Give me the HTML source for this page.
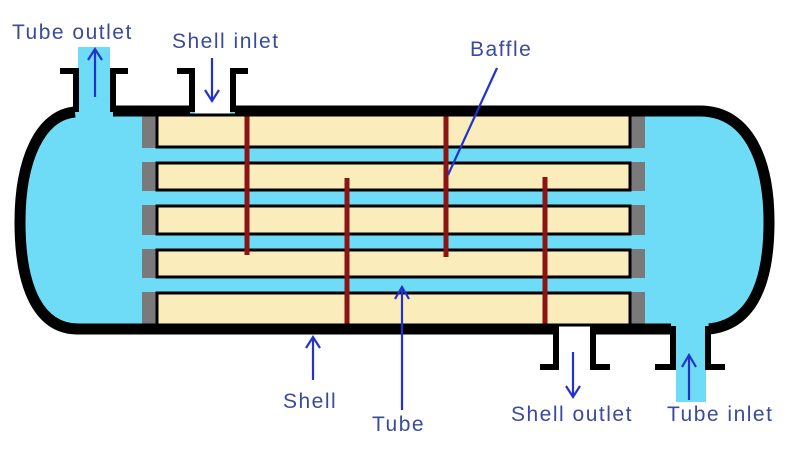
<!DOCTYPE html>
<html><head><meta charset="utf-8"><style>
html,body{margin:0;padding:0;background:#fff;}
svg{display:block}
text{font-family:"Liberation Sans",sans-serif;font-size:21px;letter-spacing:1.5px;fill:#3a4a9c}
</style></head><body>
<svg width="800" height="450" viewBox="0 0 800 450" xmlns="http://www.w3.org/2000/svg">
<rect x="78" y="47" width="32" height="70" fill="#6fdcf7"/>
<rect x="676" y="320" width="30" height="82" fill="#6fdcf7"/>
<path d="M78,111 L700,111 C745,111 770,160 770,222 C770,290 745,329 705,329 L78,329 C40,329 19,290 19,222 C19,160 40,111 78,111 Z" fill="#6fdcf7"/>
<rect x="195" y="60" width="35" height="58" fill="#fff"/>
<rect x="558" y="322" width="32" height="50" fill="#fff"/>
<rect x="142" y="116" width="14" height="209" fill="#7a7a7a"/>
<rect x="631" y="116" width="14" height="209" fill="#7a7a7a"/>
<g fill="#6fdcf7">
<rect x="142" y="148" width="14" height="14"/>
<rect x="142" y="191" width="14" height="14"/>
<rect x="142" y="235" width="14" height="14"/>
<rect x="142" y="278" width="14" height="14"/>
<rect x="631" y="148" width="14" height="14"/>
<rect x="631" y="191" width="14" height="14"/>
<rect x="631" y="235" width="14" height="14"/>
<rect x="631" y="278" width="14" height="14"/>
</g>
<g fill="#fbecbc" stroke="#000" stroke-width="3">
<rect x="157" y="115" width="473" height="32"/>
<rect x="157" y="163" width="473" height="27"/>
<rect x="157" y="206" width="473" height="28"/>
<rect x="157" y="250" width="473" height="27"/>
<rect x="157" y="293" width="473" height="32"/>
</g>
<g stroke="#8b1414" stroke-width="5">
<line x1="247" y1="116" x2="247" y2="255"/>
<line x1="347" y1="178" x2="347" y2="324"/>
<line x1="446" y1="116" x2="446" y2="257"/>
<line x1="545" y1="177" x2="545" y2="324"/>
</g>
<g fill="none" stroke="#000" stroke-width="11">
<path d="M75,112 C40,115 20,160 20,222 C20,290 40,329 78,329 L553,329"/>
<path d="M596,329 L671,329"/>
<path d="M709,329 C748,325 769,290 769,222 C769,160 748,111 700,111 L235,111"/>
<path d="M190,111 L113,111"/>
</g>
<g fill="none" stroke="#000" stroke-width="6">
<polyline points="60,71 76,71 76,112"/>
<polyline points="128,71 113,71 113,112"/>
<polyline points="177,71 192,71 192,112"/>
<polyline points="248,71 233,71 233,112"/>
<polyline points="540,367 556,367 556,326"/>
<polyline points="610,367 593,367 593,326"/>
<polyline points="655,367 673,367 673,326"/>
<polyline points="725,367 708,367 708,326"/>
</g>
<g stroke="#2233cc" stroke-width="2.2" fill="none">
<line x1="95" y1="97" x2="95" y2="50"/><polyline points="88,60 95,49 102,60"/>
<line x1="212" y1="58" x2="212" y2="100"/><polyline points="205,90 212,101 219,90"/>
<line x1="497" y1="68" x2="448" y2="175"/>
<line x1="313" y1="380" x2="313" y2="338"/><polyline points="306,348 313,337 320,348"/>
<line x1="402" y1="410" x2="402" y2="288"/><polyline points="395,299 402,287 409,299"/>
<line x1="573" y1="352" x2="573" y2="396"/><polyline points="566,386 573,397 580,386"/>
<line x1="689" y1="400" x2="689" y2="356"/><polyline points="682,367 689,355 696,367"/>
</g>
<text x="12" y="39">Tube outlet</text>
<text x="172" y="48">Shell inlet</text>
<text x="470" y="56">Baffle</text>
<text x="283" y="408">Shell</text>
<text x="372" y="431">Tube</text>
<text x="511" y="421">Shell outlet</text>
<text x="667" y="421">Tube inlet</text>
</svg>
</body></html>
